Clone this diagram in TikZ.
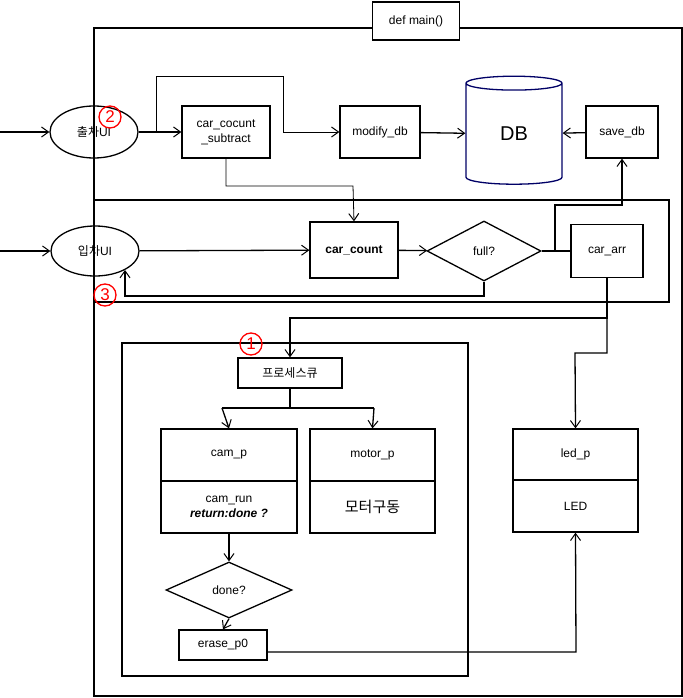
\documentclass[tikz,border=0pt]{standalone}
\usepackage{fontspec}
\setmainfont{Liberation Sans}
\newfontfamily\kr{Noto Sans CJK KR}
\usetikzlibrary{shapes.geometric,arrows.meta}
\begin{document}
\begin{tikzpicture}[x=1pt,y=-1pt,
  line width=1.3pt,
  every node/.style={font=\fontsize{12}{15}\selectfont,inner sep=0pt},
  >={Straight Barb[length=7pt,width=10pt,line width=1pt]},
  box/.style={draw,minimum width=#1,minimum height=52pt,align=center},
  ell/.style={draw,ellipse,minimum width=88pt,minimum height=52pt},
  dia/.style={draw,diamond,aspect=2},
  num/.style={draw=red,circle,red,minimum size=22pt,font=\fontsize{17}{17}\selectfont}]
\useasboundingbox (0,0) rectangle (682,698);
\draw (94,28) rectangle (682,696);
\node[draw,fill=white,minimum width=87pt,minimum height=38pt] (main) at (416,21) {def main()};
\draw (94,200) rectangle (669,302);
\draw (122,343) rectangle (468,676);
% top row
\node[ell] (out) at (94,132) {{\kr 출차}UI};
\coordinate (oin) at (0,132);
\node[box=88pt] (sub) at (226,132) {car\_cocunt\\\_subtract};
\node[box=80pt] (mod) at (380,132) {modify\_db};
\node[draw,cylinder,shape border rotate=90,aspect=0.5,minimum width=96pt,minimum height=108pt,draw=black!60!blue,font=\fontsize{20}{20}\selectfont] (db) at (514,134) {DB};
\node[box=72pt] (save) at (622,132) {save\_db};
\draw[->] (oin) -- (out);
\draw[->] (out) -- (sub);
\draw[->,line width=0.8pt] (156,132) -- (156,76) -- (283,76) -- (283,132) -- (mod);
\draw[->] (mod) -- (db);
\draw[->] (save) -- (db);
% middle row
\node[ell,minimum height=50pt] (in) at (95,251) {{\kr 입차}UI};
\coordinate (iin) at (0,251);
\node[box=88pt,minimum height=56pt,font=\fontsize{12}{15}\selectfont\bfseries] (cnt) at (354,250) {car\_count};
\node[dia,minimum width=114pt,minimum height=60pt] (full) at (484,251) {full?};
\node[box=72pt,minimum height=53pt] (arr) at (607,251) {car\_arr};
\draw[->] (iin) -- (in);
\draw[->] (in) -- (cnt);
\draw[->,line width=0.8pt] (sub.south) |- (353,186) -- (cnt.north);
\draw[->] (cnt) -- (full);
\draw (full.east) -- (arr.west);
\draw[->] (555,251) -- (555,205) -- (622,205) -- (save.south);
\draw[->] (full.south) -- (484,296) -- (125,296) -- (125,270);
% process queue
\node[draw,minimum width=104pt,minimum height=30pt,font=\kr\fontsize{12}{15}\selectfont] (q) at (290,373) {프로세스큐};
\draw[->] (arr.south) -- (607,318) -- (290,318) -- (q.north);
\node[draw,minimum width=136pt,minimum height=52pt] (cam) at (229,455) {cam\_p};
\node[draw,minimum width=136pt,minimum height=52pt,align=center] (camr) at (229,507) {cam\_run\\\bfseries\itshape return:done ?};
\node[draw,minimum width=125pt,minimum height=52pt] (mot) at (372.5,455) {motor\_p};
\node[draw,minimum width=125pt,minimum height=52pt,font=\kr\fontsize{15}{18}\selectfont] (motr) at (372.5,507) {모터구동};
\draw (q.south) -- (290,408);
\draw[->] (222,408) -- (cam.north);
\draw[->] (374,408) -- (mot.north);
\draw (222,408) -- (374,408);
\node[dia,minimum width=126pt,minimum height=56pt] (done) at (229,590) {done?};
\node[draw,minimum width=88pt,minimum height=30pt] (er) at (223,645) {erase\_p0};
\draw[->] (camr.south) -- (done.north);
\draw[->] (done.south) -- (er.north);
% led
\node[draw,minimum width=125pt,minimum height=51pt] (led) at (575.5,454.5) {led\_p};
\node[draw,minimum width=125pt,minimum height=52pt] (ledr) at (575.5,506) {LED};
\draw[->] (607,318) -- (607,353) -- (575,353) -- (led.north);
\draw[->] (267,652) -- (576,652) -- (ledr.south);
% markers
\node[num] (n1) at (251,344) {1};
\node[num] (n2) at (110,117) {2};
\node[num] (n3) at (105,295) {3};
\end{tikzpicture}
\end{document}
